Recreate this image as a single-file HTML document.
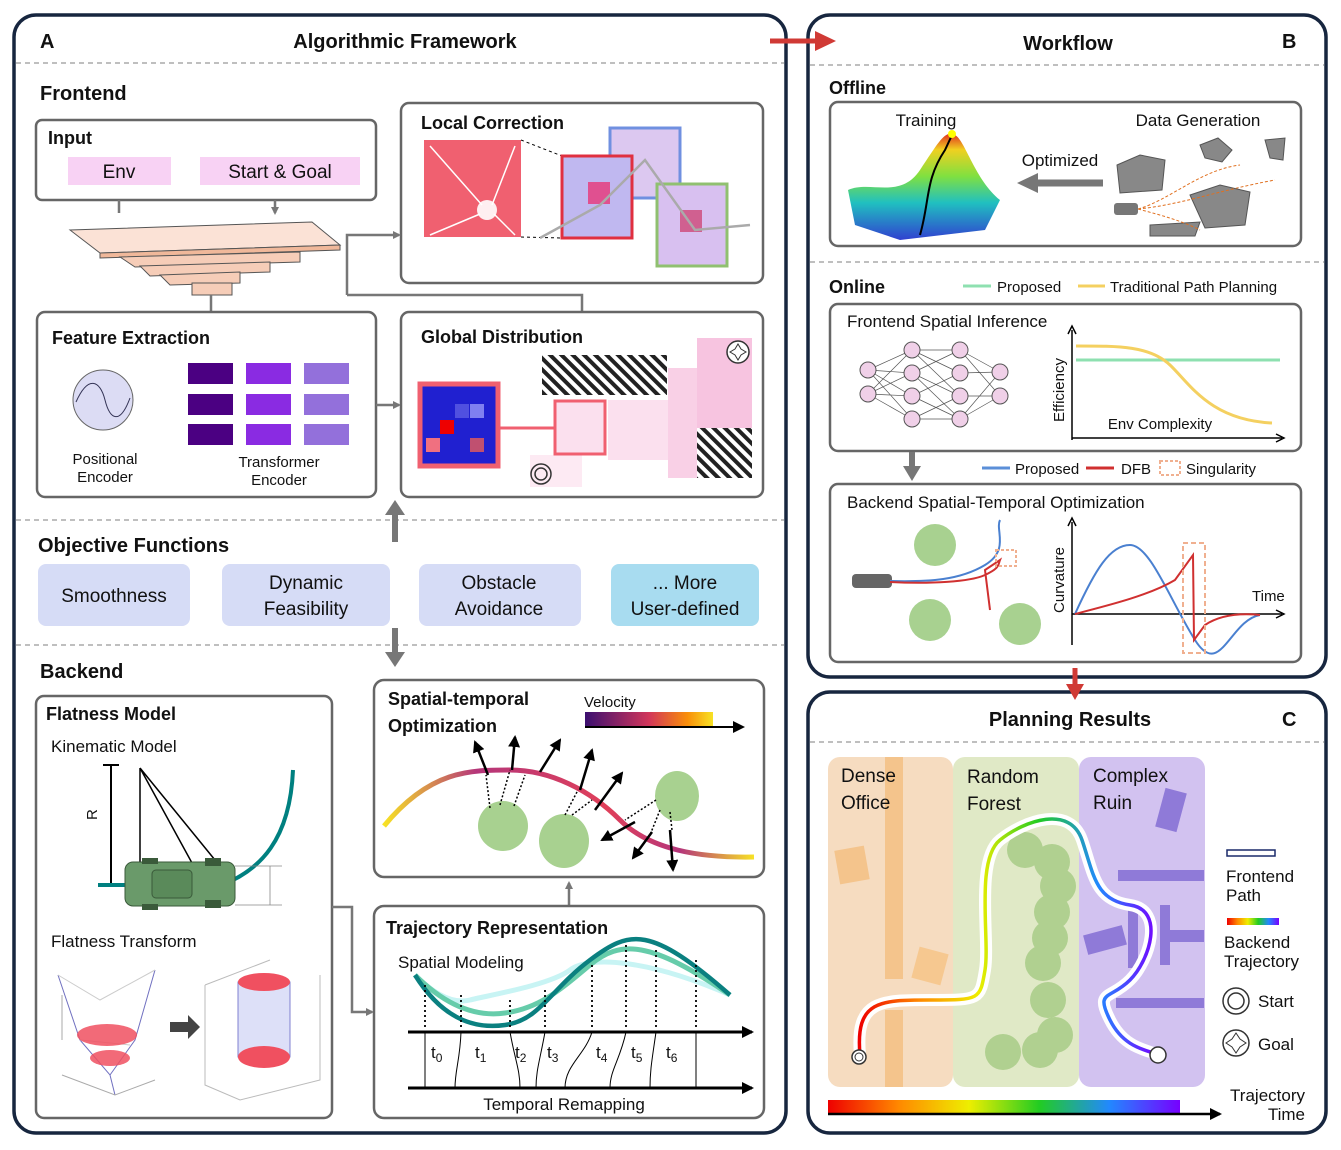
<!DOCTYPE html>
<html><head><meta charset="utf-8"><style>
html,body{margin:0;padding:0;background:#fff}
svg{display:block}
text{font-family:"Liberation Sans",sans-serif;fill:#111}
.t{font-size:20px;font-weight:bold}
.s{font-size:18px;font-weight:bold}
.n{font-size:17px}
.m{font-size:15px}
.bx{fill:#fff;stroke:#666;stroke-width:2.5}
.pn{fill:#fff;stroke:#17263f;stroke-width:3.5}
.dl{stroke:#999;stroke-width:1.3;stroke-dasharray:5 4}
.gl{stroke:#777;stroke-width:2.5;fill:none}
</style></head><body>
<svg width="1341" height="1150" viewBox="0 0 1341 1150">
<defs>
<marker id="ag" markerWidth="8" markerHeight="8" refX="6" refY="4" orient="auto" markerUnits="userSpaceOnUse"><path d="M0,0L8,4L0,8z" fill="#777"/></marker>
<marker id="ak" markerWidth="12" markerHeight="12" refX="10" refY="6" orient="auto" markerUnits="userSpaceOnUse"><path d="M0,0L12,6L0,12z" fill="#000"/></marker>
<linearGradient id="vel"><stop offset="0" stop-color="#3b0f70"/><stop offset=".5" stop-color="#d1365a"/><stop offset=".8" stop-color="#f98e09"/><stop offset="1" stop-color="#f7e225"/></linearGradient>
<linearGradient id="curv"><stop offset="0" stop-color="#f7e225"/><stop offset=".25" stop-color="#b5367a"/><stop offset=".6" stop-color="#e0405a"/><stop offset=".8" stop-color="#b5367a"/><stop offset="1" stop-color="#f7e225"/></linearGradient>
<linearGradient id="rb"><stop offset="0" stop-color="#e00"/><stop offset=".2" stop-color="#f80"/><stop offset=".4" stop-color="#ee0"/><stop offset=".6" stop-color="#2c2"/><stop offset=".8" stop-color="#28f"/><stop offset="1" stop-color="#70f"/></linearGradient>
<linearGradient id="surf" x1="0" y1="1" x2="0" y2="0"><stop offset="0" stop-color="#3040d0"/><stop offset=".35" stop-color="#20c0c0"/><stop offset=".6" stop-color="#80e040"/><stop offset=".85" stop-color="#f0d020"/><stop offset="1" stop-color="#e03020"/></linearGradient>
<pattern id="hatch" width="8" height="8" patternUnits="userSpaceOnUse" patternTransform="rotate(-45)"><rect width="8" height="8" fill="#fff"/><rect width="4" height="8" fill="#222"/></pattern>
</defs>

<!-- Panel A -->
<rect x="14" y="15" width="772" height="1118" rx="22" class="pn"/>
<text x="40" y="48" class="t">A</text>
<text x="405" y="48" class="t" text-anchor="middle">Algorithmic Framework</text>
<line x1="16" y1="63" x2="784" y2="63" class="dl"/>

<text x="40" y="100" class="t">Frontend</text>
<rect x="36" y="120" width="340" height="80" rx="6" class="bx"/>
<text x="48" y="144" class="s">Input</text>
<rect x="68" y="157" width="103" height="28" fill="#f8d2f4"/><text x="119" y="178" text-anchor="middle" font-size="19">Env</text>
<rect x="200" y="157" width="160" height="28" fill="#f8d2f4"/><text x="280" y="178" text-anchor="middle" font-size="19">Start &amp; Goal</text>
<path d="M119 200V213M275 200V213" class="gl" marker-end="url(#ag)"/>
<polygon points="70,230 312,222 340,245 100,253" fill="#fbe2d6" stroke="#555"/>
<polygon points="100,253 340,245 340,250 100,258" fill="#f0b89a" stroke="#555"/>
<polygon points="120,257 300,252 300,262 135,267" fill="#f6cdb8" stroke="#555"/>
<polygon points="140,266 270,262 270,272 150,276" fill="#f6cdb8" stroke="#555"/>
<polygon points="160,275 240,272 240,283 170,285" fill="#f6cdb8" stroke="#555"/>
<rect x="192" y="283" width="40" height="12" fill="#f6cdb8" stroke="#555"/>
<path d="M211 295V326" class="gl" marker-end="url(#ag)"/>

<rect x="37" y="312" width="339" height="185" rx="8" class="bx"/>
<text x="52" y="344" class="s">Feature Extraction</text>
<circle cx="103" cy="400" r="30" fill="#dcdcf4" stroke="#666"/>
<path d="M76 402C88 375 100 380 105 400S120 425 130 398" stroke="#335" fill="none"/>
<g>
<rect x="188" y="363" width="45" height="21" fill="#4b0082"/><rect x="246" y="363" width="45" height="21" fill="#8a2be2"/><rect x="304" y="363" width="45" height="21" fill="#9370db"/>
<rect x="188" y="394" width="45" height="21" fill="#4b0082"/><rect x="246" y="394" width="45" height="21" fill="#8a2be2"/><rect x="304" y="394" width="45" height="21" fill="#9370db"/>
<rect x="188" y="424" width="45" height="21" fill="#4b0082"/><rect x="246" y="424" width="45" height="21" fill="#8a2be2"/><rect x="304" y="424" width="45" height="21" fill="#9370db"/>
</g>
<text x="105" y="464" class="m" text-anchor="middle">Positional</text><text x="105" y="482" class="m" text-anchor="middle">Encoder</text>
<text x="279" y="467" class="m" text-anchor="middle">Transformer</text><text x="279" y="485" class="m" text-anchor="middle">Encoder</text>

<rect x="401" y="103" width="362" height="180" rx="8" class="bx"/>
<text x="421" y="129" class="s">Local Correction</text>
<rect x="424" y="140" width="97" height="97" fill="#f06070"/>
<circle cx="487" cy="210" r="10" fill="#fff" opacity=".9"/>
<path d="M430 146L482 205M515 146L492 205M430 235L480 214M515 235L494 214" stroke="#fff" stroke-width="1.5"/>
<path d="M521 140L562 156M521 237L562 238" stroke="#000" stroke-dasharray="3 3"/>
<rect x="610" y="128" width="70" height="70" fill="#dcc8f0" stroke="#7090e0" stroke-width="3"/>
<rect x="562" y="156" width="70" height="82" fill="#c0b8f0" stroke="#e03040" stroke-width="3"/>
<rect x="657" y="184" width="70" height="82" fill="#d8c0f0" stroke="#90c070" stroke-width="3"/>
<rect x="588" y="182" width="22" height="22" fill="#e05090"/><rect x="680" y="210" width="22" height="22" fill="#d06090"/>
<path d="M540 238L600 205L645 160L695 230L750 225" stroke="#aaa" stroke-width="2.5" fill="none"/>

<path d="M376 405H399" class="gl" marker-end="url(#ag)"/>
<path d="M347 295V235H399" class="gl" marker-end="url(#ag)"/>
<path d="M347 295H582V312" class="gl"/>

<rect x="401" y="312" width="362" height="185" rx="8" class="bx"/>
<text x="421" y="343" class="s">Global Distribution</text>
<rect x="608" y="400" width="60" height="60" fill="#fbe0ee"/><rect x="668" y="368" width="30" height="110" fill="#f9d0e6"/><rect x="697" y="338" width="55" height="90" fill="#f7c4e0"/>
<rect x="530" y="455" width="52" height="32" fill="#fdeaf3"/>
<rect x="542" y="355" width="125" height="40" fill="url(#hatch)"/>
<rect x="697" y="428" width="55" height="50" fill="url(#hatch)"/>
<rect x="420" y="384" width="78" height="82" fill="#2020d0" stroke="#f06070" stroke-width="5"/>
<rect x="440" y="420" width="14" height="14" fill="#e00"/><rect x="426" y="438" width="14" height="14" fill="#f07080"/><rect x="470" y="404" width="14" height="14" fill="#8080f0"/><rect x="455" y="404" width="14" height="14" fill="#5050e0"/><rect x="470" y="438" width="14" height="14" fill="#c05070"/>
<path d="M500 428H555" stroke="#f06070" stroke-width="3"/>
<rect x="555" y="401" width="50" height="53" fill="#fbe0ee" stroke="#f06070" stroke-width="3"/>
<circle cx="541" cy="474" r="10" fill="none" stroke="#333" stroke-width="1.5"/><circle cx="541" cy="474" r="6" fill="none" stroke="#333" stroke-width="1.5"/>
<circle cx="738" cy="352" r="11" fill="#fff" stroke="#333" stroke-width="1.5"/><path d="M738 344L741 349L746 352L741 355L738 360L735 355L730 352L735 349z" fill="none" stroke="#333"/>

<line x1="16" y1="520" x2="784" y2="520" class="dl"/>
<path d="M395 542V512" stroke="#777" stroke-width="6"/><path d="M385 515L395 500L405 515z" fill="#777"/>
<text x="38" y="552" class="t">Objective Functions</text>
<rect x="38" y="564" width="152" height="62" rx="8" fill="#d6dcf6"/><text x="114" y="602" text-anchor="middle" font-size="19">Smoothness</text>
<rect x="222" y="564" width="168" height="62" rx="8" fill="#d6dcf6"/><text x="306" y="589" text-anchor="middle" font-size="19">Dynamic</text><text x="306" y="615" text-anchor="middle" font-size="19">Feasibility</text>
<rect x="419" y="564" width="162" height="62" rx="8" fill="#d6dcf6"/><text x="499" y="589" text-anchor="middle" font-size="19">Obstacle</text><text x="499" y="615" text-anchor="middle" font-size="19">Avoidance</text>
<rect x="611" y="564" width="148" height="62" rx="8" fill="#a8dcf0"/><text x="685" y="589" text-anchor="middle" font-size="19">... More</text><text x="685" y="615" text-anchor="middle" font-size="19">User-defined</text>
<line x1="16" y1="645" x2="784" y2="645" class="dl"/>
<path d="M395 628V655" stroke="#777" stroke-width="6"/><path d="M385 652L395 667L405 652z" fill="#777"/>
<text x="40" y="678" class="t">Backend</text>

<rect x="36" y="696" width="296" height="422" rx="8" class="bx"/>
<text x="46" y="720" class="s">Flatness Model</text>
<text x="51" y="752" class="n">Kinematic Model</text>
<path d="M103 765H119M111 765V885M103 885H119" stroke="#000" stroke-width="2"/>
<text x="95" y="828" class="m" transform="rotate(-90 92 823)">R</text>
<path d="M98 885H165" stroke="#008080" stroke-width="4"/>
<path d="M222 885C260 870 290 840 293 770" stroke="#008080" stroke-width="4" fill="none"/>
<path d="M140 768V870M140 768L215 860M140 768L215 905" stroke="#000" stroke-width="1.5" fill="none"/>
<rect x="125" y="862" width="110" height="44" rx="8" fill="#6a9a6a" stroke="#3a5a3a"/>
<rect x="152" y="870" width="40" height="28" rx="4" fill="#5a8a5a" stroke="#3a5a3a"/>
<rect x="142" y="858" width="16" height="6" fill="#3a5a3a"/><rect x="142" y="904" width="16" height="6" fill="#3a5a3a"/>
<rect x="205" y="858" width="16" height="8" fill="#3a5a3a"/><rect x="205" y="900" width="16" height="8" fill="#3a5a3a"/>
<path d="M235 866H282M235 905H282M270 866V905" stroke="#888" stroke-width=".8"/>
<text x="51" y="947" class="n">Flatness Transform</text>
<path d="M58 975L80 1040L110 1075L135 1040L155 970M110 1075L115 1095" stroke="#7070c0" fill="none"/>
<path d="M58 975L100 1000L155 970M80 1040L130 1045" stroke="#ccc" fill="none"/>
<path d="M62 1040V995M62 1075L115 1095L155 1080" stroke="#aaa" fill="none"/>
<ellipse cx="107" cy="1035" rx="30" ry="11" fill="#f05060" opacity=".85"/>
<ellipse cx="110" cy="1058" rx="20" ry="8" fill="#f05060" opacity=".85"/>
<path d="M170 1022H188V1015L200 1027L188 1039V1032H170z" fill="#444"/>
<path d="M205 985V1085L240 1100L320 1080V975M205 985L270 960" stroke="#bbb" fill="none"/>
<rect x="238" y="982" width="52" height="75" fill="#dde0f8" stroke="#8080d0"/>
<ellipse cx="264" cy="982" rx="26" ry="9" fill="#f05060"/>
<ellipse cx="264" cy="1057" rx="26" ry="11" fill="#f05060"/>
<path d="M332 907H352V1012H372" class="gl" marker-end="url(#ag)"/>

<rect x="374" y="680" width="390" height="197" rx="10" class="bx"/>
<text x="388" y="705" class="s">Spatial-temporal</text><text x="388" y="732" class="s">Optimization</text>
<text x="584" y="707" class="m" font-size="16">Velocity</text>
<rect x="585" y="712" width="128" height="14" fill="url(#vel)"/>
<path d="M585 727H743" stroke="#000" stroke-width="2" marker-end="url(#ak)"/>
<path d="M384 826C430 770 470 770 510 770S590 790 620 820S700 858 754 857" stroke="url(#curv)" stroke-width="5" fill="none"/>
<ellipse cx="503" cy="826" rx="25" ry="25" fill="#a8d190"/>
<ellipse cx="564" cy="841" rx="25" ry="27" fill="#a8d190"/>
<ellipse cx="677" cy="796" rx="22" ry="25" fill="#a8d190"/>
<g stroke="#000" stroke-width="2.5" marker-end="url(#ak)">
<path d="M488 775L475 742"/><path d="M512 770L515 737"/><path d="M540 772L560 740"/><path d="M580 790L592 750"/><path d="M595 810L622 773"/>
<path d="M635 822L602 840"/><path d="M652 832L633 858"/><path d="M670 830L673 870"/>
</g>
<path d="M490 808L486 775M500 805L510 770M514 806L525 775M565 815L578 790M572 815L592 800M656 800L625 820M660 810L650 835M670 812L672 830" stroke="#000" stroke-dasharray="2 2" stroke-width="1.5"/>
<path d="M569 906V883" class="gl" marker-end="url(#ag)"/>

<rect x="374" y="906" width="390" height="212" rx="10" class="bx"/>
<text x="386" y="934" class="s">Trajectory Representation</text>
<text x="398" y="968" class="n">Spatial Modeling</text>
<path d="M415 975C430 990 450 1005 470 1000S550 985 570 970S650 960 730 995" stroke="#c8f4f4" stroke-width="5" fill="none"/>
<path d="M415 975C440 1000 470 1018 505 1013S560 990 590 965S650 940 730 995" stroke="#66ccaa" stroke-width="5" fill="none"/>
<path d="M415 975C440 1015 470 1030 505 1025S550 990 590 960S650 925 730 995" stroke="#0a8080" stroke-width="4.5" fill="none"/>
<g stroke="#000" stroke-width="1.8" stroke-dasharray="2 3"><path d="M425 985V1030M461 995V1030M510 1000V1030M545 990V1030M592 965V1030M626 945V1030M656 950V1030M696 960V1030"/></g>
<path d="M408 1032H752" stroke="#000" stroke-width="3" marker-end="url(#ak)"/>
<path d="M408 1088H752" stroke="#000" stroke-width="3" marker-end="url(#ak)"/>
<g stroke="#000" stroke-width="1" fill="none"><path d="M425 1032V1088M461 1032C460 1060 455 1070 455 1088M510 1032C515 1060 520 1070 520 1088M545 1032C540 1060 536 1070 536 1088M592 1032C585 1055 565 1065 565 1088M626 1032C620 1060 610 1070 610 1088M656 1032C652 1060 650 1070 650 1088M696 1032V1088"/></g>
<g font-size="17"><text x="431" y="1058">t<tspan font-size="12" dy="4">0</tspan></text><text x="475" y="1058">t<tspan font-size="12" dy="4">1</tspan></text><text x="515" y="1058">t<tspan font-size="12" dy="4">2</tspan></text><text x="547" y="1058">t<tspan font-size="12" dy="4">3</tspan></text><text x="596" y="1058">t<tspan font-size="12" dy="4">4</tspan></text><text x="631" y="1058">t<tspan font-size="12" dy="4">5</tspan></text><text x="666" y="1058">t<tspan font-size="12" dy="4">6</tspan></text></g>
<text x="564" y="1110" class="n" text-anchor="middle">Temporal Remapping</text>

<!-- Panel B -->
<rect x="808" y="15" width="518" height="662" rx="22" class="pn"/>
<text x="1068" y="50" class="t" text-anchor="middle">Workflow</text>
<text x="1282" y="48" class="t">B</text>
<line x1="810" y1="65" x2="1324" y2="65" class="dl"/>
<text x="829" y="94" class="s">Offline</text>
<rect x="830" y="102" width="471" height="144" rx="8" class="bx"/>
<text x="926" y="126" class="n" text-anchor="middle">Training</text>
<text x="1198" y="126" class="n" text-anchor="middle">Data Generation</text>
<text x="1060" y="166" class="n" text-anchor="middle">Optimized</text>
<path d="M1103 183H1035" stroke="#777" stroke-width="7"/><path d="M1038 173L1017 183L1038 193z" fill="#777"/>
<path d="M848 190C870 180 900 200 920 170S945 130 955 135S975 180 1000 200L985 230L900 240L855 225z" fill="url(#surf)"/>
<path d="M920 235C930 200 925 180 945 150L952 135" stroke="#000" stroke-width="2" fill="none"/>
<circle cx="952" cy="134" r="4" fill="#ff0"/>
<g fill="#888" stroke="#555"><polygon points="1117,165 1140,155 1165,160 1162,190 1120,193"/><polygon points="1200,145 1218,138 1232,150 1222,162 1205,158"/><polygon points="1265,140 1285,138 1283,160 1270,158"/><polygon points="1190,195 1220,185 1250,192 1245,225 1205,228"/><polygon points="1150,225 1200,222 1195,236 1150,236"/></g>
<rect x="1114" y="203" width="24" height="12" rx="3" fill="#777"/>
<path d="M1138 209C1170 200 1200 170 1240 165M1138 209C1180 205 1220 190 1275 180M1138 209C1160 215 1180 220 1200 230" stroke="#e07020" stroke-dasharray="3 2" fill="none"/>
<line x1="810" y1="262" x2="1324" y2="262" class="dl"/>
<text x="829" y="293" class="s">Online</text>
<path d="M963 286H991" stroke="#8ee0b0" stroke-width="3"/><text x="997" y="292" class="m">Proposed</text>
<path d="M1078 286H1105" stroke="#f4d060" stroke-width="3"/><text x="1110" y="292" class="m">Traditional Path Planning</text>
<rect x="830" y="304" width="471" height="147" rx="8" class="bx"/>
<text x="847" y="327" class="n">Frontend Spatial Inference</text>
<g stroke="#555" stroke-width=".7">
<path d="M868 370L912 350M868 370L912 373M868 370L912 396M868 370L912 419M868 394L912 350M868 394L912 373M868 394L912 396M868 394L912 419M912 350L960 350M912 350L960 373M912 350L960 396M912 373L960 350M912 373L960 396M912 373L960 419M912 396L960 373M912 396L960 419M912 419L960 396M912 419L960 419M960 350L1000 372M960 373L1000 372M960 396L1000 396M960 419L1000 396M960 350L1000 396M960 419L1000 372"/>
</g>
<g fill="#f0d0e8" stroke="#555"><circle cx="868" cy="370" r="8"/><circle cx="868" cy="394" r="8"/><circle cx="912" cy="350" r="8"/><circle cx="912" cy="373" r="8"/><circle cx="912" cy="396" r="8"/><circle cx="912" cy="419" r="8"/><circle cx="960" cy="350" r="8"/><circle cx="960" cy="373" r="8"/><circle cx="960" cy="396" r="8"/><circle cx="960" cy="419" r="8"/><circle cx="1000" cy="372" r="8"/><circle cx="1000" cy="396" r="8"/></g>
<path d="M1072 440V330M1072 438H1282" stroke="#000" stroke-width="1.5" fill="none"/><path d="M1068 334L1072 326L1076 334M1276 434L1284 438L1276 442" stroke="#000" fill="none" stroke-width="1.5"/>
<text x="1064" y="390" class="m" transform="rotate(-90 1064 390)" text-anchor="middle">Efficiency</text>
<path d="M1076 360H1280" stroke="#8ee0b0" stroke-width="3"/>
<path d="M1076 346C1120 346 1150 346 1170 365S1210 420 1272 423" stroke="#f4d060" stroke-width="3" fill="none"/>
<text x="1160" y="429" class="m" text-anchor="middle">Env Complexity</text>
<path d="M912 452V468" stroke="#777" stroke-width="6"/><path d="M903 466L912 481L921 466z" fill="#777"/>
<path d="M982 468H1010" stroke="#5b8fd8" stroke-width="3"/><text x="1015" y="474" class="m">Proposed</text>
<path d="M1086 468H1114" stroke="#d03030" stroke-width="3"/><text x="1121" y="474" class="m">DFB</text>
<rect x="1160" y="461" width="20" height="14" fill="none" stroke="#f0b090" stroke-dasharray="3 2" stroke-width="2"/><text x="1186" y="474" class="m">Singularity</text>
<rect x="830" y="484" width="471" height="178" rx="8" class="bx"/>
<text x="847" y="508" class="n">Backend Spatial-Temporal Optimization</text>
<circle cx="935" cy="545" r="21" fill="#a8d190"/><circle cx="930" cy="620" r="21" fill="#a8d190"/><circle cx="1020" cy="624" r="21" fill="#a8d190"/>
<rect x="852" y="574" width="40" height="14" rx="4" fill="#666"/>
<path d="M890 581C930 582 960 580 985 565S995 530 1000 520" stroke="#4a80d0" stroke-width="2" fill="none"/>
<path d="M890 582C930 584 970 582 985 575S998 565 1000 560L985 570 990 610" stroke="#d03030" stroke-width="2" fill="none"/>
<rect x="996" y="550" width="20" height="16" fill="none" stroke="#f0b090" stroke-dasharray="3 2" stroke-width="2"/>
<path d="M1072 645V522M1072 614H1282" stroke="#000" stroke-width="1.5"/><path d="M1068 526L1072 518L1076 526M1276 610L1284 614L1276 618" stroke="#000" fill="none" stroke-width="1.5"/>
<text x="1064" y="580" class="m" transform="rotate(-90 1064 580)" text-anchor="middle">Curvature</text>
<text x="1252" y="601" class="m">Time</text>
<path d="M1075 614C1095 570 1110 545 1130 545S1170 600 1195 640S1230 620 1260 615" stroke="#4a80d0" stroke-width="2" fill="none"/>
<path d="M1075 614C1110 605 1150 595 1175 580L1193 555L1194 640L1205 625C1220 615 1240 613 1260 615" stroke="#d03030" stroke-width="2" fill="none"/>
<rect x="1183" y="543" width="22" height="110" fill="none" stroke="#f0b090" stroke-dasharray="5 3" stroke-width="2"/>

<!-- Panel C -->
<rect x="808" y="692" width="518" height="441" rx="22" class="pn"/>
<text x="1070" y="726" class="t" text-anchor="middle">Planning Results</text>
<text x="1282" y="726" class="t">C</text>
<line x1="810" y1="742" x2="1324" y2="742" class="dl"/>
<rect x="828" y="757" width="125" height="330" rx="12" fill="#f6dcc0"/>
<rect x="953" y="757" width="126" height="330" rx="12" fill="#e0e9c6"/>
<rect x="1079" y="757" width="126" height="330" rx="12" fill="#d2c2f0"/>
<rect x="885" y="757" width="18" height="222" fill="#f4c48c"/><rect x="885" y="1010" width="18" height="77" fill="#f4c48c"/>
<rect x="837" y="848" width="30" height="34" fill="#f4c48c" transform="rotate(-10 852 865)"/>
<rect x="915" y="950" width="30" height="32" fill="#f6c890" transform="rotate(15 930 966)"/>
<g fill="#b0d090"><circle cx="1025" cy="850" r="18"/><circle cx="1052" cy="862" r="18"/><circle cx="1058" cy="886" r="18"/><circle cx="1052" cy="912" r="18"/><circle cx="1050" cy="938" r="18"/><circle cx="1043" cy="963" r="18"/><circle cx="1048" cy="1000" r="18"/><circle cx="1055" cy="1035" r="18"/><circle cx="1040" cy="1050" r="18"/><circle cx="1003" cy="1052" r="18"/></g>
<g fill="#8f7ad8"><rect x="1160" y="790" width="22" height="40" transform="rotate(15 1171 810)"/><rect x="1118" y="870" width="86" height="11"/><rect x="1128" y="908" width="10" height="60"/><rect x="1160" y="905" width="10" height="60"/><rect x="1170" y="930" width="34" height="12"/><rect x="1116" y="998" width="88" height="10"/><rect x="1085" y="930" width="40" height="20" transform="rotate(-15 1105 940)"/></g>
<path d="M860 1055C855 1000 880 1000 930 1000S980 1000 985 970S975 860 1000 840S1070 805 1082 840S1095 900 1130 905S1150 960 1130 980S1095 990 1110 1020S1150 1050 1158 1055" stroke="#fff" stroke-width="12" fill="none"/>
<path d="M860 1055C855 1000 880 1000 930 1000S980 1000 985 970S975 860 1000 840S1070 805 1082 840S1095 900 1130 905S1150 960 1130 980S1095 990 1110 1020S1150 1050 1158 1055" stroke="url(#rb)" stroke-width="3.5" fill="none"/>
<circle cx="859" cy="1057" r="7" fill="#fff" stroke="#333" stroke-width="1.5"/><circle cx="859" cy="1057" r="4" fill="none" stroke="#333"/>
<circle cx="1158" cy="1055" r="8" fill="#fff" stroke="#333" stroke-width="1.5"/>
<g font-size="19"><text x="841" y="782">Dense</text><text x="841" y="809">Office</text><text x="967" y="783">Random</text><text x="967" y="810">Forest</text><text x="1093" y="782">Complex</text><text x="1093" y="809">Ruin</text></g>
<rect x="1227" y="850" width="48" height="6" fill="#fff" stroke="#1a2a6a" stroke-width="1.5"/>
<text x="1226" y="882" class="n">Frontend</text><text x="1226" y="901" class="n">Path</text>
<rect x="1227" y="918" width="52" height="7" fill="url(#rb)"/>
<text x="1224" y="948" class="n">Backend</text><text x="1224" y="967" class="n">Trajectory</text>
<circle cx="1236" cy="1001" r="13" fill="none" stroke="#333" stroke-width="1.5"/><circle cx="1236" cy="1001" r="8" fill="none" stroke="#333" stroke-width="1.5"/>
<text x="1258" y="1007" class="n">Start</text>
<circle cx="1236" cy="1043" r="13" fill="none" stroke="#333" stroke-width="1.5"/><path d="M1236 1033L1240 1039L1246 1043L1240 1047L1236 1053L1232 1047L1226 1043L1232 1039z" fill="none" stroke="#333"/>
<text x="1258" y="1050" class="n">Goal</text>
<rect x="828" y="1100" width="352" height="13" fill="url(#rb)"/>
<path d="M828 1114H1220" stroke="#000" stroke-width="2.5" marker-end="url(#ak)"/>
<text x="1305" y="1101" class="n" text-anchor="end">Trajectory</text><text x="1305" y="1120" class="n" text-anchor="end">Time</text>

<!-- red arrows on top -->
<path d="M770 41H820" stroke="#d03a35" stroke-width="5"/><path d="M815 31L836 41L815 51z" fill="#d03a35"/>
<path d="M1075 668V690" stroke="#d03a35" stroke-width="5"/><path d="M1066 684L1075 700L1084 684z" fill="#d03a35"/>
</svg>
</body></html>
